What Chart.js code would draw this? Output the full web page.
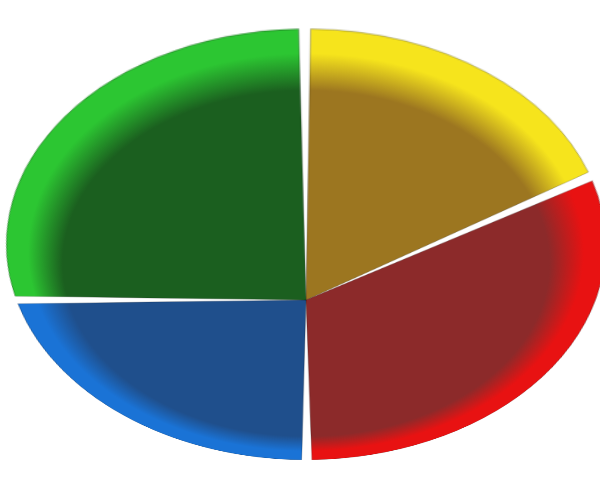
<!DOCTYPE html>
<html>
<head>
<meta charset="utf-8">
<script src="https://cdn.jsdelivr.net/npm/chart.js@4"></script>
<style>
  html, body { margin: 0; padding: 0; background: #fff; overflow: hidden; width: 600px; height: 500px; }
  #wrap {
    position: absolute; left: 3px; top: 0px; width: 606px; height: 600px;
    transform: perspective(807px) rotateX(-46deg);
    transform-origin: 50% 50%;
  }
</style>
</head>
<body>
<div id="wrap"><canvas id="pie"></canvas></div>
<script>
// slices, clockwise from 12 o'clock
const labels = ['Yellow', 'Red', 'Blue', 'Green'];
const values = [16, 34, 25, 25];
const topColors = ['#9c7620', '#8c2a2a', '#1f4f8c', '#1b5f1f'];
const rimColors = ['#f6e41c', '#e81212', '#1a73d6', '#2cc632'];

// radial shading: dark top face, bright bevelled rim
function shade(ctx) {
  const chart = ctx.chart;
  const area = chart.chartArea;
  const i = ctx.dataIndex;
  if (!area) return topColors[i];
  const cx = (area.left + area.right) / 2;
  const cy = (area.top + area.bottom) / 2;
  const r = Math.min(area.right - area.left, area.bottom - area.top) / 2;
  const g = chart.ctx.createRadialGradient(cx, cy, 0, cx, cy, r);
  g.addColorStop(0, topColors[i]);
  g.addColorStop(0.82, topColors[i]);
  g.addColorStop(0.93, rimColors[i]);
  g.addColorStop(1, rimColors[i]);
  return g;
}

const chart = new Chart(document.getElementById('pie'), {
  type: 'pie',
  data: {
    labels: labels,
    datasets: [{
      data: values,
      backgroundColor: shade,
      borderColor: 'rgba(0,0,0,0.25)',
      borderWidth: 1,
      spacing: 7,
    }],
  },
  options: {
    responsive: true,
    maintainAspectRatio: false,
    animation: false,
    layout: { padding: 10 },
    plugins: {
      legend: { display: false },
      tooltip: { enabled: false },
    },
  },
});
</script>
</body>
</html>
